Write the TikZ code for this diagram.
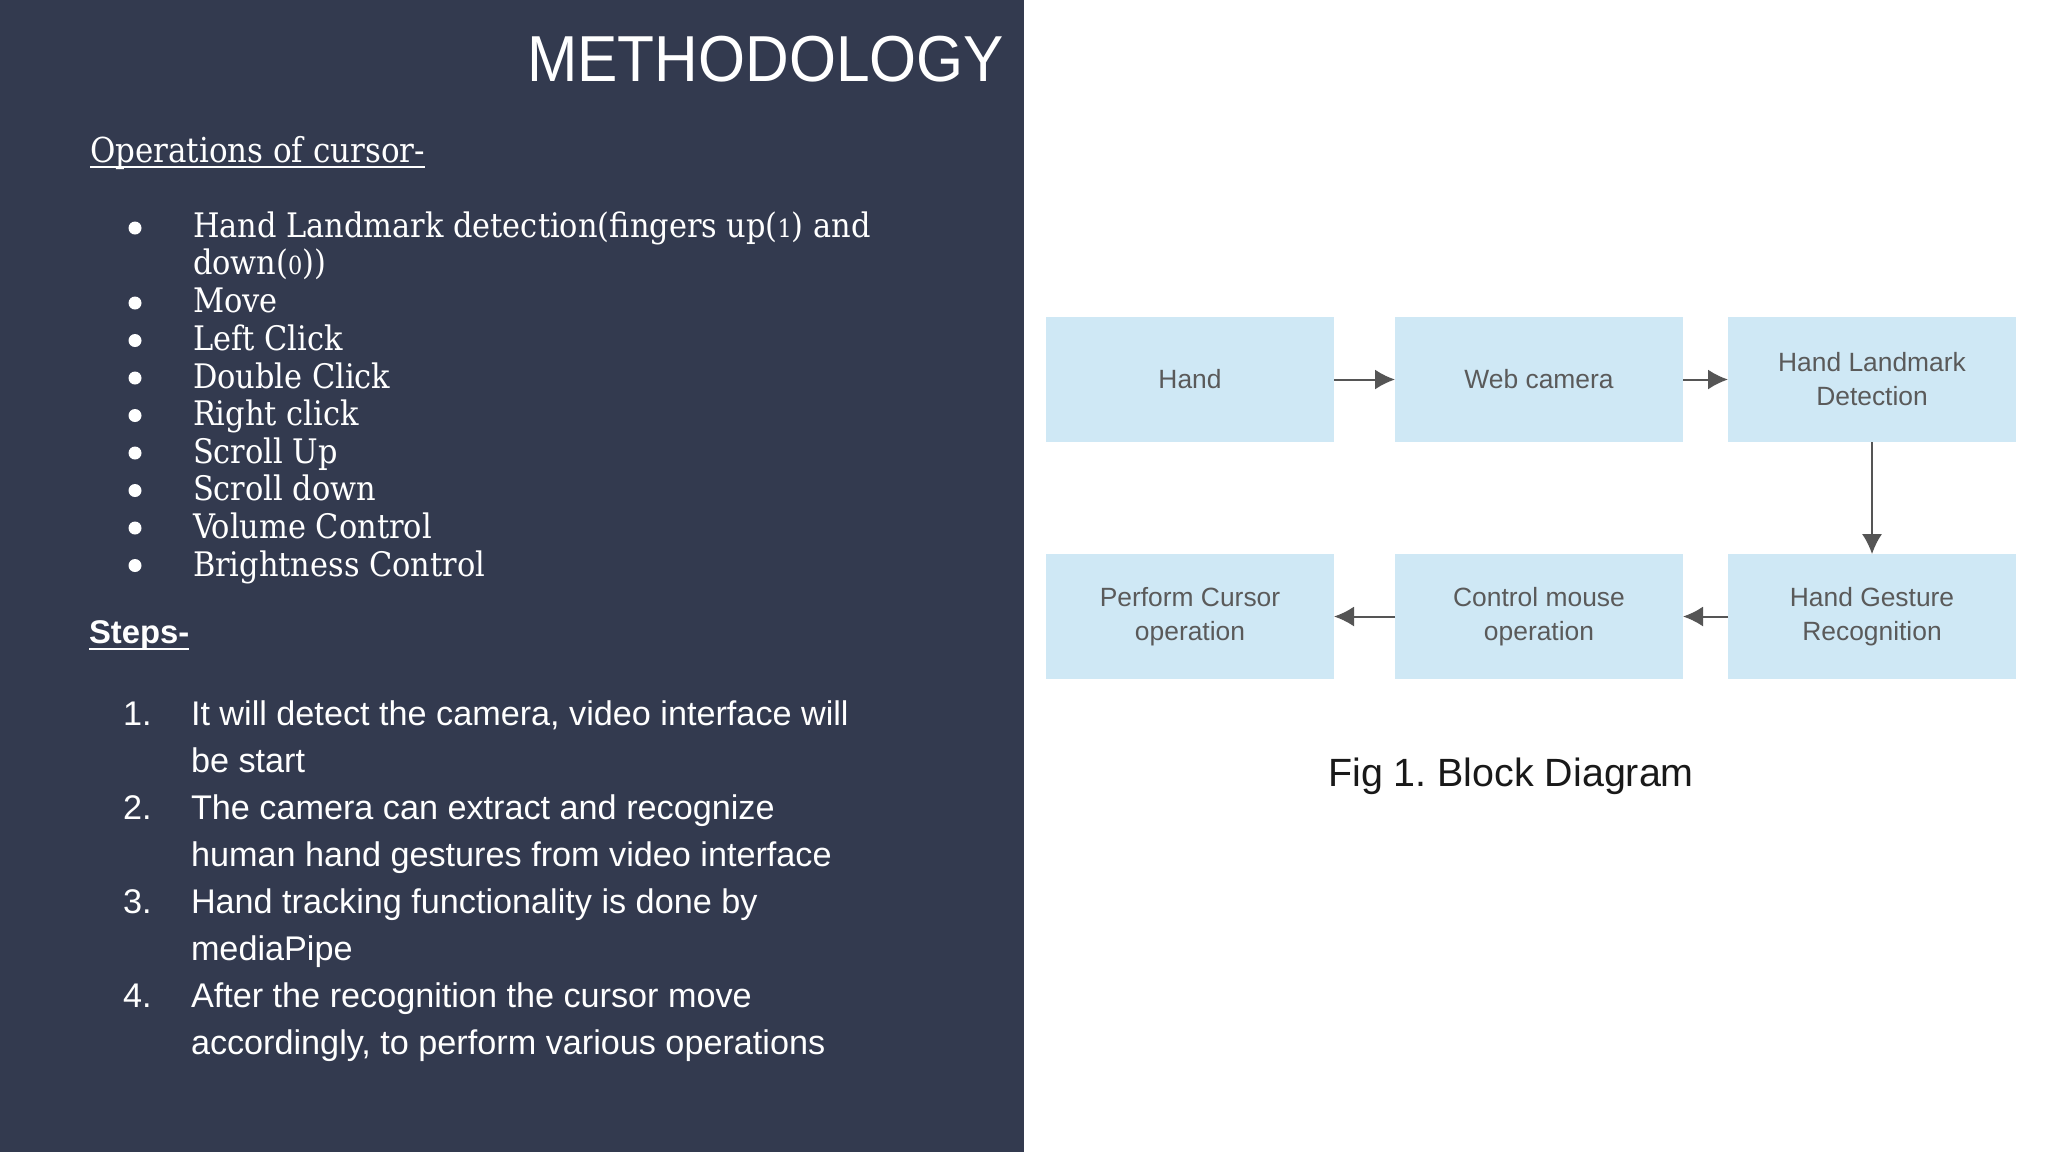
\documentclass[tikz,border=0pt]{standalone}
\usepackage{fontspec}
\setmainfont{Liberation Sans}
\newfontfamily\itemfont{DejaVu Serif Condensed}
\newfontfamily\titlefont[FakeStretch=0.93]{Liberation Sans}
\usetikzlibrary{calc,positioning,arrows.meta}

\definecolor{panelcol}{HTML}{333A4F}
\definecolor{boxcol}{HTML}{CFE8F5}
\definecolor{arrowcol}{HTML}{555555}
\definecolor{boxtext}{HTML}{5A5A5A}

\newcommand{\lowfig}[1]{{\fontsize{12.5}{12.5}\selectfont #1}}
\frenchspacing

\begin{document}
\begin{tikzpicture}[x=0.5pt,y=-0.5pt]
  \def\XPANEL{1024}
  \def\XHEAD{90}
  \def\XDOT{135}
  \def\XITEM{193}
  \def\XNUM{123}
  \def\XSTEP{191}

  \tikzset{
      plain/.style={inner sep=0pt,outer sep=0pt,anchor=base west,text=white},
      itemtext/.style={plain,font=\itemfont\fontsize{16.9}{20}\selectfont},
      steptext/.style={plain,font=\fontsize{17.1}{20}\selectfont},
      dot/.style={circle,fill=white,inner sep=0pt,minimum size=6.5pt},
      stepbox/.style={fill=boxcol,text=boxtext,minimum width=144pt,minimum height=62.5pt,
        inner sep=0pt,outer sep=0pt,align=center,font=\fontsize{13.2}{17}\selectfont},
      flow/.style={-{Latex[length=10pt,width=10pt]},arrowcol,line width=1pt},
      uline/.style={white,line width=0.7pt},
  }

  \fill [white] (0,0) rectangle (2048,1152);
  \fill [panelcol] (0,0) rectangle (\XPANEL,1152);

  \node [plain,anchor=base east,font=\titlefont\fontsize{32.5}{36}\selectfont] (title) at (1004,81.5) {METHODOLOGY};

  \node [itemtext,font=\itemfont\fontsize{17.2}{20}\selectfont] (opshead) at (\XHEAD,162) {Operations of cursor-};
  \draw [uline] ($(opshead.base west)+(0,5)$) -- ($(opshead.base east)+(0,5)$);

  \node [dot] (dota) at (\XDOT,228) {};
  \node [itemtext] (itema) at (\XITEM,237) {Hand Landmark detection(fingers up(\lowfig{1}) and};
  \node [itemtext] (itemb) at (\XITEM,274.5) {down(\lowfig{0}))};
  \node [dot] (dotc) at (\XDOT,303) {};
  \node [itemtext] (itemc) at (\XITEM,312.5) {Move};
  \node [dot] (dotd) at (\XDOT,340.5) {};
  \node [itemtext] (itemd) at (\XITEM,350) {Left Click};
  \node [dot] (dote) at (\XDOT,378) {};
  \node [itemtext] (iteme) at (\XITEM,388) {Double Click};
  \node [dot] (dotf) at (\XDOT,415.5) {};
  \node [itemtext] (itemf) at (\XITEM,425.5) {Right click};
  \node [dot] (dotg) at (\XDOT,453) {};
  \node [itemtext] (itemg) at (\XITEM,463) {Scroll Up};
  \node [dot] (doth) at (\XDOT,490.5) {};
  \node [itemtext] (itemh) at (\XITEM,500.5) {Scroll down};
  \node [dot] (doti) at (\XDOT,528) {};
  \node [itemtext] (itemi) at (\XITEM,538) {Volume Control};
  \node [dot] (dotj) at (\XDOT,565.5) {};
  \node [itemtext] (itemj) at (\XITEM,576) {Brightness Control};

  \node [steptext,font=\bfseries\fontsize{16.4}{20}\selectfont] (stepshead) at (\XHEAD-1,643) {Steps-};
  \draw [uline,line width=1pt] ($(stepshead.base west)+(0,6)$) -- ($(stepshead.base east)+(0,6)$);

  \node [steptext] (numa) at (\XNUM,725.5) {1.};
  \node [steptext] (stepa) at (\XSTEP,725.5) {It will detect the camera, video interface will};
  \node [steptext] (stepb) at (\XSTEP,772.5) {be start};
  \node [steptext] (numc) at (\XNUM,819.5) {2.};
  \node [steptext] (stepc) at (\XSTEP,819.5) {The camera can extract and recognize};
  \node [steptext] (stepd) at (\XSTEP,866.5) {human hand gestures from video interface};
  \node [steptext] (nume) at (\XNUM,913.5) {3.};
  \node [steptext] (stepe) at (\XSTEP,913.5) {Hand tracking functionality is done by};
  \node [steptext] (stepf) at (\XSTEP,960.5) {mediaPipe};
  \node [steptext] (numg) at (\XNUM,1007.5) {4.};
  \node [steptext] (stepg) at (\XSTEP,1007.5) {After the recognition the cursor move};
  \node [steptext] (steph) at (\XSTEP,1054.5) {accordingly, to perform various operations};

  \node [stepbox] (hand) at (1190,379.5) {Hand};
  \node [stepbox,right=30.5pt of hand] (webcam) {Web camera};
  \node [stepbox,right=22.5pt of webcam] (landmark) {Hand Landmark\\Detection};
  \node [stepbox,below=56pt of landmark] (gesture) {Hand Gesture\\Recognition};
  \node [stepbox,left=22.5pt of gesture] (control) {Control mouse\\operation};
  \node [stepbox,left=30.5pt of control] (perform) {Perform Cursor\\operation};

  \draw [flow] (hand) -- (webcam);
  \draw [flow] (webcam) -- (landmark);
  \draw [flow,line width=0.7pt] (landmark) -- (gesture);
  \draw [flow] (gesture) -- (control);
  \draw [flow] (control) -- (perform);

  \node [font=\fontsize{19.7}{24}\selectfont,text=black!90,inner sep=0pt] (caption) at (1511,776) {Fig 1. Block Diagram};
\end{tikzpicture}
\end{document}
